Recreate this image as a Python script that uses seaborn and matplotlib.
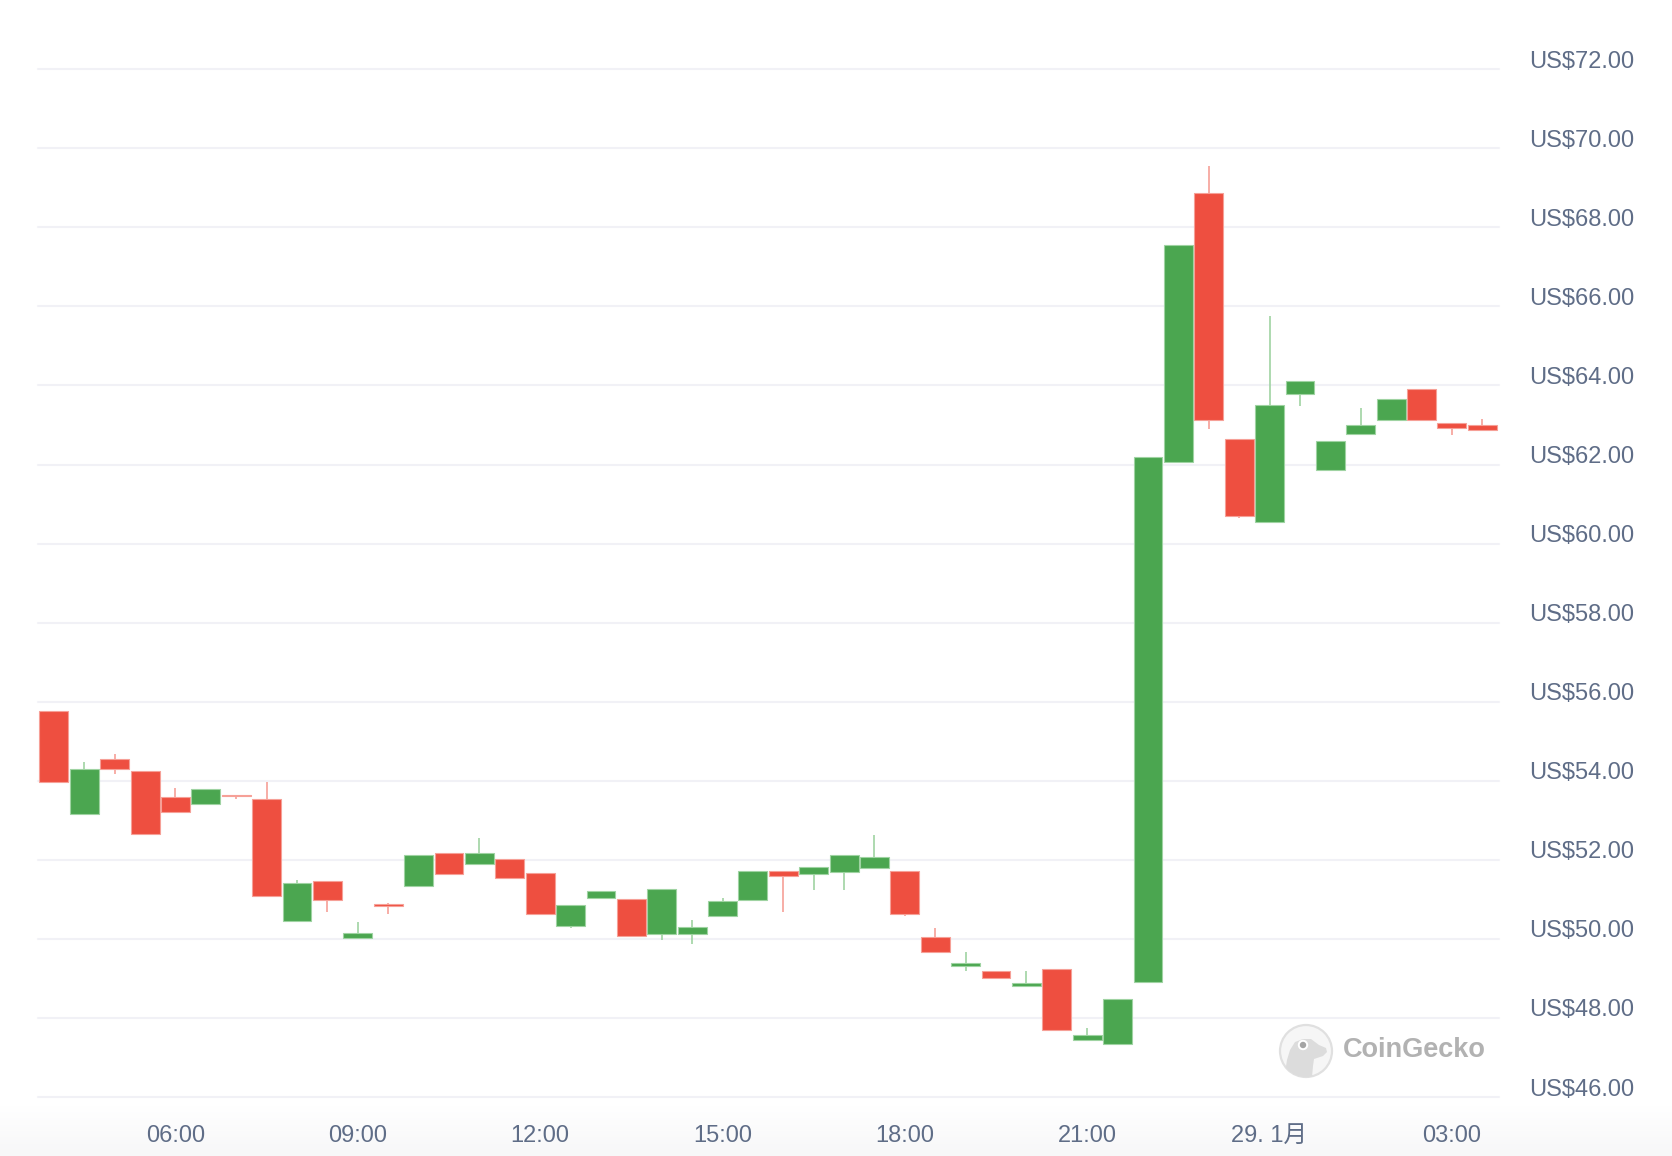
"""Candlestick chart of a 30 minute price series in the CoinGecko look."""

from __future__ import annotations

import matplotlib

matplotlib.use("Agg")

import matplotlib.pyplot as plt
import numpy as np
import pandas as pd
import seaborn as sns
from matplotlib.patches import Circle, Polygon
from matplotlib.transforms import ScaledTranslation

# one candle per 30 minutes, 04:00 to 03:30 next day
opens = [55.76, 53.17, 54.55, 54.25, 53.59, 53.42, 53.65, 53.54, 50.44, 51.46, 50.03, 50.87,
         51.35, 52.17, 51.90, 52.02, 51.67, 50.33, 51.04, 51.01, 50.13, 50.13, 50.59, 50.99,
         51.72, 51.65, 51.70, 51.80, 51.72, 50.05, 49.32, 49.19, 48.82, 49.24, 47.45, 47.35,
         48.92, 62.07, 68.87, 62.64, 60.55, 63.79, 61.87, 62.78, 63.13, 63.91, 63.04, 62.99]
closes = [53.98, 54.30, 54.29, 52.66, 53.22, 53.79, 53.61, 51.09, 51.41, 50.99, 50.15, 50.83,
          52.12, 51.65, 52.17, 51.55, 50.64, 50.86, 51.21, 50.08, 51.26, 50.30, 50.96, 51.72,
          51.60, 51.82, 52.12, 52.07, 50.64, 49.68, 49.39, 49.02, 48.88, 47.70, 47.57, 48.48,
          62.19, 67.55, 63.13, 60.70, 63.50, 64.11, 62.59, 63.00, 63.66, 63.13, 62.92, 62.87]
highs = [55.76, 54.47, 54.67, 54.25, 53.81, 53.79, 53.65, 53.96, 51.48, 51.46, 50.42, 50.92,
         52.12, 52.17, 52.54, 52.02, 51.67, 50.86, 51.21, 51.01, 51.26, 50.47, 51.03, 51.72,
         51.72, 51.82, 52.12, 52.64, 51.72, 50.27, 49.66, 49.19, 49.20, 49.24, 47.74, 48.48,
         62.19, 67.55, 69.54, 62.64, 65.75, 64.11, 62.59, 63.42, 63.66, 63.91, 63.04, 63.16]
lows = [53.98, 53.17, 54.16, 52.66, 53.22, 53.42, 53.55, 51.09, 50.44, 50.67, 50.03, 50.62,
        51.35, 51.63, 51.90, 51.53, 50.64, 50.28, 51.04, 50.08, 49.96, 49.86, 50.59, 50.99,
        50.67, 51.23, 51.23, 51.80, 50.57, 49.68, 49.20, 49.00, 48.82, 47.70, 47.45, 47.35,
        48.92, 62.07, 62.91, 60.64, 60.55, 63.47, 61.87, 62.78, 63.13, 63.13, 62.75, 62.87]

x_tick_slots = [4, 10, 16, 22, 28, 34, 40, 46]
x_tick_labels = ["06:00", "09:00", "12:00", "15:00", "18:00", "21:00", "29. 1月", "03:00"]
y_ticks = list(range(46, 74, 2))

GREEN = "#4ba650"
RED = "#ee4f40"
GREEN_SOFT = "#9fd3a2"
RED_SOFT = "#f6a097"
GRID = "#f1f1f6"
TEXT = "#5f6d87"
W, H = 1672, 1156

sns.set_theme(style="white")
plt.rcParams["font.family"] = ["Liberation Sans", "Noto Sans CJK JP", "DejaVu Sans"]

df = pd.DataFrame({"open": opens, "close": closes, "high": highs, "low": lows})
df["slot"] = df.index
df["body_low"] = df[["open", "close"]].min(axis=1)
df["body_height"] = (df["close"] - df["open"]).abs()
df["rising"] = df["close"] >= df["open"]

fig = plt.figure(figsize=(W / 100, H / 100), dpi=100, facecolor="white")

# faint grey fade along the bottom edge of the page
bg = fig.add_axes([0, 0, 1, 1], zorder=0)
fade = np.clip((np.arange(H) - 1105) / 51, 0, 1).reshape(-1, 1)
bg.imshow(fade, cmap=sns.blend_palette(["#ffffff", "#f7f7f8"], as_cmap=True), aspect="auto", vmin=0, vmax=1)
bg.axis("off")

left, right, top, bottom = 38.4, 1499, 69.2, 1097
ax = fig.add_axes([left / W, 1 - bottom / H, (right - left) / W, (bottom - top) / H], zorder=1)
ax.patch.set_alpha(0)

for rising, fill, edge, soft in [(True, GREEN, GREEN_SOFT, GREEN_SOFT), (False, RED, RED_SOFT, RED_SOFT)]:
    part = df[df["rising"] == rising]
    ax.vlines(part["slot"], part["low"], part["high"], color=soft, linewidth=1.2, zorder=2)
    sns.barplot(
        x=part["slot"].to_numpy(),
        y=part["body_height"].to_numpy(),
        bottom=part["body_low"].to_numpy(),
        order=list(range(len(df))),
        color=fill,
        saturation=1,
        width=0.95,
        errorbar=None,
        edgecolor=edge,
        linewidth=0.8,
        zorder=3,
        ax=ax,
    )

ax.set_xlim(-0.51, 47.55)
ax.set_ylim(46, 72)
ax.set_xlabel("")
ax.set_ylabel("")
sns.despine(ax=ax, left=True, bottom=True, top=True, right=True)

ax.set_xticks(x_tick_slots, x_tick_labels)
ax.set_yticks(y_ticks, [f"US${v}.00" for v in y_ticks])
ax.yaxis.tick_right()
ax.grid(axis="y", color=GRID, linewidth=1.5, zorder=1)
ax.grid(axis="x", visible=False)
ax.set_axisbelow(True)
for line in ax.yaxis.get_gridlines():
    line.set_clip_on(False)

ax.tick_params(axis="x", length=14, width=1.2, color=GRID, pad=6, labelsize=17, labelcolor=TEXT)
ax.tick_params(axis="y", length=0, pad=21.5, labelsize=17, labelcolor=TEXT)
for label in ax.get_yticklabels():
    label.set_transform(label.get_transform() + ScaledTranslation(0, 10 / 100, fig.dpi_scale_trans))

# watermark, in page pixels
mark = fig.add_axes([0, 0, 1, 1], zorder=2)
mark.set_xlim(0, W)
mark.set_ylim(H, 0)
mark.axis("off")
cx, cy = 1306, 1051
ring = Circle((cx, cy), 26, facecolor="#f6f6f6", edgecolor="#e0e0e0", linewidth=1.6)
mark.add_patch(ring)
gecko = Polygon(
    [(1285, 1073), (1287, 1060), (1290, 1050), (1295, 1042), (1303, 1039), (1311, 1039), (1319, 1045),
     (1326, 1048), (1327, 1052), (1323, 1056), (1314, 1059), (1313, 1066), (1312, 1077), (1300, 1078), (1290, 1076)],
    facecolor="#dcdcdc",
    edgecolor="none",
)
mark.add_patch(gecko)
gecko.set_clip_path(ring)
mark.add_patch(Circle((1303, 1045), 5.2, facecolor="white", edgecolor="none"))
mark.add_patch(Circle((1303, 1045), 3.2, facecolor="#a4a4a4", edgecolor="none"))
mark.text(1343, 1050, "CoinGecko", color="#b2b2b2", fontsize=19.5, fontweight="bold", va="center", ha="left")

fig.savefig("out.png", dpi=100)
plt.close(fig)
